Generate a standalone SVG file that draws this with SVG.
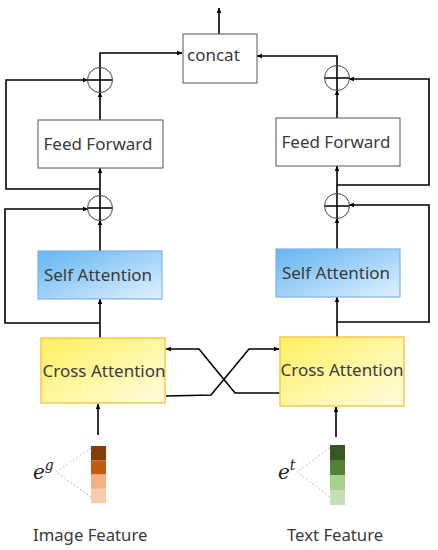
<svg xmlns="http://www.w3.org/2000/svg" width="438" height="550" viewBox="0 0 438 550">
<defs>
<linearGradient id="gBlue" x1="0" y1="0" x2="1" y2="1">
<stop offset="0" stop-color="#63b4f2"/>
<stop offset="1" stop-color="#e0f1fd"/>
</linearGradient>
<linearGradient id="gYel" x1="0" y1="0" x2="1" y2="1">
<stop offset="0" stop-color="#fff060"/>
<stop offset="1" stop-color="#fffce0"/>
</linearGradient>
<marker id="ah" viewBox="0 0 10 10" refX="9" refY="5" markerWidth="6" markerHeight="6" orient="auto-start-reverse" markerUnits="userSpaceOnUse">
<path d="M0,1 L10,5 L0,9 z" fill="#000"/>
</marker>
</defs>
<style>
.box{fill:#fff;stroke:#555;stroke-width:1}
.sa{fill:url(#gBlue);stroke:#7fb2e5;stroke-width:1.2}
.ca{fill:url(#gYel);stroke:#f6c84c;stroke-width:1.5}
.lbl{font-family:"Noto Sans","Open Sans",sans-serif;font-size:17px;fill:#3a3a3a;text-anchor:middle}
.cap{font-family:"Noto Sans","Open Sans",sans-serif;font-size:16.7px;fill:#3a3a3a}
.math{font-family:"DejaVu Serif","Liberation Serif",serif;font-style:italic;font-size:20px;fill:#222}
.ln{fill:none;stroke:#000;stroke-width:1.6}
.arr{fill:none;stroke:#000;stroke-width:1.6;marker-end:url(#ah)}
.plus{fill:#fff;stroke:#444;stroke-width:1}
.pl{stroke:#000;stroke-width:1.6}
.dot{stroke:#aaa;stroke-width:0.8;stroke-dasharray:2,2;fill:none}
</style>

<g id="connectors">
<path class="arr" d="M219,34 V8"/>
<path class="arr" d="M100,68 V53 H182"/>
<path class="arr" d="M337,66 V56 H257"/>
<path class="arr" d="M100,120 V92"/>
<path class="arr" d="M337,118 V90"/>
<path class="arr" d="M100,196 V168"/>
<path class="arr" d="M337,194 V166"/>
<path class="arr" d="M100,189 H6 V80 H88"/>
<path class="arr" d="M337,185 H429 V79 H349"/>
<path class="arr" d="M100,251 V220"/>
<path class="arr" d="M337,249 V218"/>
<path class="arr" d="M100,338 V299"/>
<path class="arr" d="M337,337 V297"/>
<path class="arr" d="M100,323 H5 V209 H88"/>
<path class="arr" d="M337,322 H429 V205 H349"/>
<path class="arr" d="M280,393 H235 L199,349 H166"/>
<path class="arr" d="M166,396 L211,395 L249,349 H279"/>
<path class="arr" d="M98,435 V404"/>
<path class="arr" d="M336,437 V407"/>
</g>

<g id="concat">
<rect class="box" x="183" y="34" width="74" height="49"/>
<text class="lbl" x="187" y="61" text-anchor="start" style="text-anchor:start">concat</text>
</g>

<g id="plus-left-top">
<circle class="plus" cx="100" cy="80" r="12.5"/>
<path class="pl" d="M88,80 H112 M100,68 V92"/>
</g>
<g id="plus-right-top">
<circle class="plus" cx="337" cy="78" r="12.5"/>
<path class="pl" d="M325,78 H349 M337,66 V90"/>
</g>
<g id="plus-left-mid">
<circle class="plus" cx="100" cy="208" r="12.5"/>
<path class="pl" d="M88,208 H112 M100,196 V220"/>
</g>
<g id="plus-right-mid">
<circle class="plus" cx="337" cy="206" r="12.5"/>
<path class="pl" d="M325,206 H349 M337,194 V218"/>
</g>

<g id="ff-left">
<rect class="box" x="38" y="120" width="125" height="48"/>
<text class="lbl" x="98" y="150">Feed Forward</text>
</g>
<g id="ff-right">
<rect class="box" x="276" y="118" width="124" height="48"/>
<text class="lbl" x="336" y="148">Feed Forward</text>
</g>

<g id="sa-left">
<rect class="sa" x="38" y="251" width="124" height="48"/>
<text class="lbl" x="98" y="281">Self Attention</text>
</g>
<g id="sa-right">
<rect class="sa" x="276" y="249" width="124" height="48"/>
<text class="lbl" x="336" y="279">Self Attention</text>
</g>

<g id="ca-left">
<rect class="ca" x="41" y="338" width="124" height="65"/>
<text class="lbl" x="104" y="377">Cross Attention</text>
</g>
<g id="ca-right">
<rect class="ca" x="280" y="337" width="124" height="69"/>
<text class="lbl" x="342" y="376">Cross Attention</text>
</g>

<g id="image-feature">
<rect x="91" y="446" width="15" height="14.3" fill="#843c0c"/>
<rect x="91" y="460.3" width="15" height="14.3" fill="#c55a11"/>
<rect x="91" y="474.6" width="15" height="14.3" fill="#f4b183"/>
<rect x="91" y="488.9" width="15" height="14.3" fill="#f8cbad"/>
<path class="dot" d="M91,448 L56,472 L91,497"/>
<text class="math" x="33" y="479">e<tspan font-size="14" dy="-9">g</tspan></text>
<text class="cap" x="33" y="541">Image Feature</text>
</g>

<g id="text-feature">
<rect x="330" y="445" width="15" height="15" fill="#385723"/>
<rect x="330" y="460" width="15" height="15" fill="#548235"/>
<rect x="330" y="475" width="15" height="15" fill="#a9d18e"/>
<rect x="330" y="490" width="15" height="15" fill="#c5e0b4"/>
<path class="dot" d="M330,448 L297,472 L330,497"/>
<text class="math" x="278" y="479">e<tspan font-size="14" dy="-9">t</tspan></text>
<text class="cap" x="287" y="541">Text Feature</text>
</g>
</svg>
